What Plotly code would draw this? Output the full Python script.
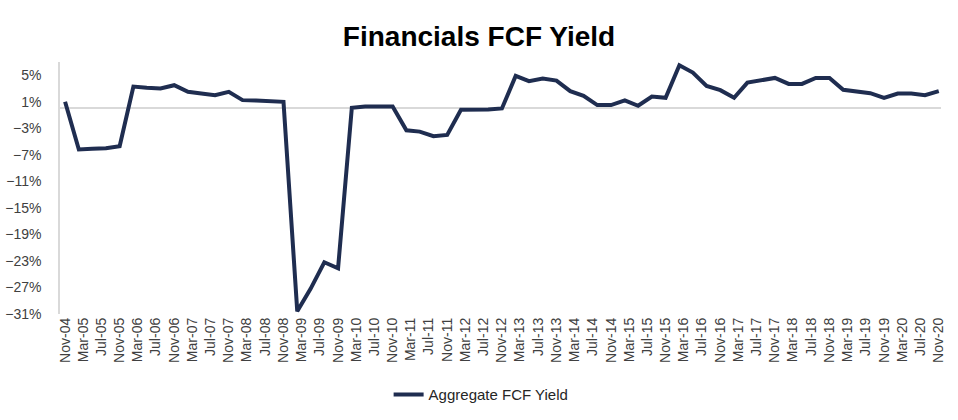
import plotly.graph_objects as go

# quarterly observations (first of month)
quarters = [
    "2004-11-01",
    "2005-02-01", "2005-05-01", "2005-08-01", "2005-11-01",
    "2006-02-01", "2006-05-01", "2006-08-01", "2006-11-01",
    "2007-02-01", "2007-05-01", "2007-08-01", "2007-11-01",
    "2008-02-01", "2008-05-01", "2008-08-01", "2008-11-01",
    "2009-02-01", "2009-05-01", "2009-08-01", "2009-11-01",
    "2010-02-01", "2010-05-01", "2010-08-01", "2010-11-01",
    "2011-02-01", "2011-05-01", "2011-08-01", "2011-11-01",
    "2012-02-01", "2012-05-01", "2012-08-01", "2012-11-01",
    "2013-02-01", "2013-05-01", "2013-08-01", "2013-11-01",
    "2014-02-01", "2014-05-01", "2014-08-01", "2014-11-01",
    "2015-02-01", "2015-05-01", "2015-08-01", "2015-11-01",
    "2016-02-01", "2016-05-01", "2016-08-01", "2016-11-01",
    "2017-02-01", "2017-05-01", "2017-08-01", "2017-11-01",
    "2018-02-01", "2018-05-01", "2018-08-01", "2018-11-01",
    "2019-02-01", "2019-05-01", "2019-08-01", "2019-11-01",
    "2020-02-01", "2020-05-01", "2020-08-01", "2020-11-01",
]

# aggregate FCF yield, %
fcf_yield = [
    1.0,
    -6.2, -6.1, -6.0, -5.7,
    3.3, 3.1, 3.0, 3.5,
    2.5, 2.25, 2.0, 2.5,
    1.25, 1.2, 1.05, 1.0,
    -30.6, -27.2, -23.2, -24.1,
    0.1, 0.3, 0.3, 0.3,
    -3.3, -3.5, -4.2, -4.0,
    -0.2, -0.2, -0.15, 0.0,
    4.9, 4.1, 4.5, 4.2,
    2.6, 1.9, 0.5, 0.5,
    1.2, 0.4, 1.8, 1.6,
    6.5, 5.4, 3.4, 2.75,
    1.6, 3.9, 4.3, 4.6,
    3.7, 3.7, 4.6, 4.6,
    2.8, 2.6, 2.3, 1.6,
    2.25, 2.25, 2.0, 2.6,
]

FONT = "Liberation Sans, Arial, sans-serif"
NAVY = "#1f2d50"
GREY = "#d9d9d9"

fig = go.Figure()
fig.add_trace(
    go.Scatter(
        x=quarters,
        y=fcf_yield,
        mode="lines",
        name="Aggregate FCF Yield",
        line=dict(color=NAVY, width=4),
    )
)

fig.update_layout(
    width=958,
    height=420,
    template="plotly_white",
    paper_bgcolor="white",
    plot_bgcolor="white",
    margin={"l": 60, "r": 17, "t": 62, "b": 106, "autoexpand": False},
    font=dict(family=FONT, size=14, color="#404040"),
    title=dict(
        text="<b>Financials FCF Yield</b>",
        x=0.5,
        xanchor="center",
        y=0.915,
        yanchor="middle",
        font=dict(family=FONT, size=28, color="black"),
    ),
    showlegend=True,
    legend=dict(
        orientation="h",
        x=0.478,
        xanchor="center",
        yref="container",
        y=0.06,
        yanchor="middle",
        itemwidth=30,
        font=dict(size=15, color="#262626"),
    ),
)

fig.update_xaxes(
    type="date",
    range=["2004-09-28", "2020-11-16"],
    tick0="2004-11-01",
    dtick="M4",
    tickformat="%b-%y",
    tickangle=-90,
    showgrid=False,
    showline=False,
    zeroline=False,
    ticks="",
    automargin=False,
    tickfont=dict(size=14, color="#404040"),
)

fig.update_yaxes(
    range=[-31, 7],
    tick0=-31,
    dtick=4,
    ticksuffix="%",
    showgrid=False,
    showline=True,
    linecolor=GREY,
    linewidth=1.5,
    zeroline=True,
    zerolinecolor=GREY,
    zerolinewidth=1.5,
    ticks="",
    ticklabelstandoff=14,
    automargin=False,
    tickfont=dict(size=14, color="#404040"),
)

# drop the default page margin so the figure sits at the window origin
fig.write_html(
    "out.html",
    config={"displayModeBar": False},
    post_script="document.body.style.margin = '0';",
)
